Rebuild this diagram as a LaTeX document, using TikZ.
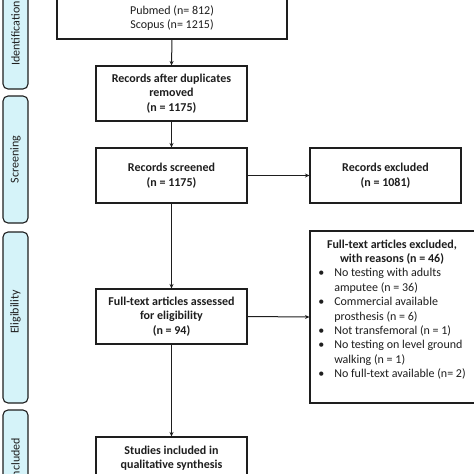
\documentclass[tikz,border=0pt]{standalone}
\usepackage{fontspec}
\setmainfont{Carlito}
\usetikzlibrary{arrows.meta}
\definecolor{barfill}{RGB}{213,243,249}
\definecolor{ink}{RGB}{30,30,30}
\begin{document}
\begin{tikzpicture}[x=1pt,y=-1pt,
  every node/.style={text=ink, font=\fontsize{12}{14.4}\selectfont},
  box/.style={draw=ink, line width=1.1pt, fill=white, inner sep=0pt, align=center},
  bold/.style={font=\fontsize{12}{14.4}\selectfont\bfseries},
  bar/.style={draw=ink, line width=1.1pt, fill=barfill, rounded corners=5pt, inner sep=0pt},
  bartext/.style={rotate=90, inner sep=0pt},
  flow/.style={draw=ink, line width=1pt, -{Stealth[length=4.5pt,width=4pt]}}]
\useasboundingbox (0,0) rectangle (474,474);
\begin{scope}
\clip (0,0) rectangle (474,474);
% phase bars
\node[bar, minimum width=25, minimum height=115] (b1) at (15.5,31.5) {};
\node[bartext] (t1) at (15.5,33.5) {Identification};
\node[bar, minimum width=25, minimum height=127] (b2) at (15.5,159.5) {};
\node[bartext] (t2) at (b2) {Screening};
\node[bar, minimum width=25, minimum height=171] (b3) at (15.5,317.5) {};
\node[bartext] (t3) at (15.5,312) {Eligibility};
\node[bar, minimum width=25, minimum height=92] (b4) at (15.5,456) {};
\node[bartext] (t4) at (15.5,459) {Included};
% boxes
\node[box, minimum width=230, minimum height=80] (id) at (172,-1) {};
\node[align=center, inner sep=0pt] (idtext) at (172,18) {Pubmed (n= 812)\\Scopus (n= 1215)};
\node[box, bold, minimum width=151, minimum height=55] (dup) at (171.5,93.5) {Records after duplicates\\removed\\(n = 1175)};
\node[box, bold, minimum width=151, minimum height=55] (scr) at (171.5,175.5) {Records screened\\(n = 1175)};
\node[box, bold, minimum width=151, minimum height=55] (exc) at (385.5,175.5) {Records excluded\\(n = 1081)};
\node[box, bold, minimum width=151, minimum height=55] (ass) at (171.5,316.5) {Full-text articles assessed\\for eligibility\\(n = 94)};
\node[box, minimum width=166, minimum height=172] (fte) at (393,317) {};
\node[inner sep=0pt] (ftetext) at (392,310) {\begin{tabular}{@{}p{16pt}@{}l@{}}
\multicolumn{2}{@{}c@{}}{\bfseries Full-text articles excluded,}\\
\multicolumn{2}{@{}c@{}}{\bfseries with reasons (n = 46)}\\
\textbullet & No testing with adults\\
 & amputee (n = 36)\\
\textbullet & Commercial available\\
 & prosthesis (n = 6)\\
\textbullet & Not transfemoral (n = 1)\\
\textbullet & No testing on level ground\\
 & walking (n = 1)\\
\textbullet & No full-text available (n= 2)
\end{tabular}};
\node[box, minimum width=151, minimum height=55] (inc) at (171.5,464.5) {};
\node[align=center, inner sep=0pt, bold] (inctext) at (171.5,458.5) {Studies included in\\qualitative synthesis};
% connectors
\draw[flow] (id.south) -- (dup.north);
\draw[flow] (dup.south) -- (scr.north);
\draw[flow] (scr.east) -- (exc.west);
\draw[flow] (scr.south) -- (ass.north);
\draw[flow] (ass.east) -- (fte.west);
\draw[flow] (ass.south) -- (inc.north);
\end{scope}
\end{tikzpicture}
\end{document}
